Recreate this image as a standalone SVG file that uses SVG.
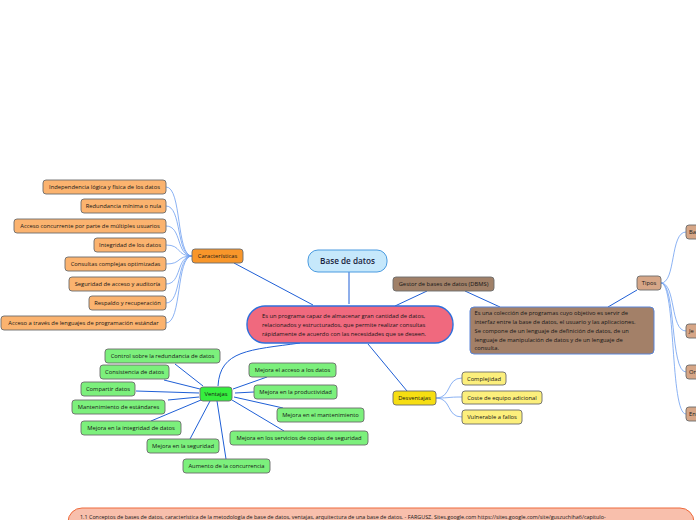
<svg xmlns="http://www.w3.org/2000/svg" width="696" height="520" viewBox="0 0 696 520">
<style>
text{font-family:"Open Sans","Noto Sans","Liberation Sans",sans-serif;font-size:5.8px;fill:#161616}
.c{text-anchor:middle}
.n{stroke:#6b6b6b;stroke-width:0.9}
.carC{fill:#fbb36f}
.venC{fill:#7cf07c}
.desC{fill:#fcef7c}
.tip{fill:#d6a687}
.soft{fill:none;stroke:#6d9ef0;stroke-width:0.8}
.hard{fill:none;stroke:#1f5fd6;stroke-width:1}
</style>
<rect width="696" height="520" fill="#ffffff"/>
<g id="connectors">
<line class="hard" x1="349" y1="272" x2="349" y2="304"/>
<line class="hard" x1="234" y1="263" x2="313" y2="305"/>
<line class="hard" x1="427" y1="291" x2="395" y2="306"/>
<line class="hard" x1="465" y1="291" x2="500" y2="307"/>
<line class="hard" x1="637" y1="290" x2="608" y2="307"/>
<line class="hard" x1="368" y1="344" x2="407" y2="391"/>
<path class="hard" d="M300,343 C250,350 220,350 218,386"/>
<path class="soft" d="M192,256 C176,256 182,187 166,187"/>
<path class="soft" d="M192,256 C176,256 182,206 166,206"/>
<path class="soft" d="M192,256 C176,256 182,226 166,226"/>
<path class="soft" d="M192,256 C176,256 182,245 166,245"/>
<path class="soft" d="M192,256 C176,256 182,264 166,264"/>
<path class="soft" d="M192,256 C176,256 182,284 166,284"/>
<path class="soft" d="M192,256 C176,256 182,303 166,303"/>
<path class="soft" d="M192,256 C176,256 182,323 166,323"/>
<line class="hard" x1="175" y1="364" x2="203" y2="386"/>
<line class="hard" x1="164" y1="380" x2="200" y2="389"/>
<line class="hard" x1="136" y1="391" x2="199" y2="393"/>
<line class="hard" x1="168" y1="400" x2="199" y2="397"/>
<line class="hard" x1="151" y1="421" x2="201" y2="400"/>
<line class="hard" x1="190" y1="439" x2="210" y2="401"/>
<line class="hard" x1="226" y1="459" x2="217" y2="401"/>
<line class="hard" x1="233" y1="389" x2="267" y2="377"/>
<line class="hard" x1="235" y1="393" x2="254" y2="392"/>
<line class="hard" x1="234" y1="397" x2="283" y2="408"/>
<line class="hard" x1="232" y1="400" x2="284" y2="431"/>
<path class="soft" d="M436,398 C452,398 446,378 462,378"/>
<path class="soft" d="M436,398 C452,398 446,397 462,397"/>
<path class="soft" d="M436,398 C452,398 446,417 462,417"/>
<path class="soft" d="M661,283 C676,283 670,232 686,232"/>
<path class="soft" d="M661,283 C676,283 670,331 686,331"/>
<path class="soft" d="M661,283 C676,283 670,372 686,372"/>
<path class="soft" d="M661,283 C676,283 670,414 686,414"/>
</g>
<g id="base">
<rect x="308" y="250" width="79" height="22" rx="10" fill="#c6e8fb" stroke="#4a9be0" stroke-width="1"/>
<text class="c" x="347.5" y="264" style="font-size:8.2px;font-weight:600;fill:#1a2340">Base de datos</text>
</g>
<g id="central">
<rect x="247" y="306" width="206" height="37" rx="18" fill="#f0697e" stroke="#2f6fdb" stroke-width="1.4"/>
<text x="262" y="318">Es un programa capaz de almacenar gran cantidad de datos,</text>
<text x="262" y="327">relacionados y estructurados, que permite realizar consultas</text>
<text x="262" y="335.5">rápidamente de acuerdo con las necesidades que se deseen.</text>
</g>
<g id="gestor">
<rect class="n" x="393" y="277" width="101" height="14" rx="3" fill="#a08068"/>
<text class="c" x="443.5" y="286">Gestor de bases de datos (DBMS)</text>
</g>
<g id="descripcion">
<rect x="470" y="307" width="184" height="47" rx="4" fill="#a38068" stroke="#5a85d8" stroke-width="1"/>
<text x="474.5" y="315">Es una colección de programas cuyo objetivo es servir de</text>
<text x="474.5" y="324">interfaz entre la base de datos, el usuario y las aplicaciones.</text>
<text x="474.5" y="332.5">Se compone de un lenguaje de definición de datos, de un</text>
<text x="474.5" y="341.5">lenguaje de manipulación de datos y de un lenguaje de</text>
<text x="474.5" y="350">consulta.</text>
</g>
<g id="tipos">
<rect class="n tip" x="637" y="276" width="24" height="14" rx="3"/>
<text class="c" x="649" y="285">Tipos</text>
</g>
<g id="tipo1"><rect class="n tip" x="686" y="225" width="40" height="14" rx="3"/><text x="689" y="234">Ba</text></g>
<g id="tipo2"><rect class="n tip" x="686" y="324" width="40" height="14" rx="3"/><text x="689" y="333">Je</text></g>
<g id="tipo3"><rect class="n tip" x="686" y="365" width="40" height="14" rx="3"/><text x="689" y="374">Or</text></g>
<g id="tipo4"><rect class="n tip" x="686" y="407" width="40" height="14" rx="3"/><text x="689" y="416">En</text></g>
<g id="caracteristicas">
<rect class="n" x="192" y="249" width="51" height="14" rx="3" fill="#f8962a"/>
<text class="c" x="217.5" y="258">Características</text>
</g>
<g id="car1"><rect class="n carC" x="43" y="180" width="123" height="14" rx="3"/><text class="c" x="104.5" y="189">Independencia lógica y física de los datos</text></g>
<g id="car2"><rect class="n carC" x="81" y="199" width="85" height="14" rx="3"/><text class="c" x="123.5" y="208">Redundancia mínima o nula</text></g>
<g id="car3"><rect class="n carC" x="14" y="219" width="152" height="14" rx="3"/><text class="c" x="90" y="228">Acceso concurrente por parte de múltiples usuarios</text></g>
<g id="car4"><rect class="n carC" x="94" y="238" width="72" height="14" rx="3"/><text class="c" x="130" y="247">Integridad de los datos</text></g>
<g id="car5"><rect class="n carC" x="65" y="257" width="101" height="14" rx="3"/><text class="c" x="115.5" y="266">Consultas complejas optimizadas</text></g>
<g id="car6"><rect class="n carC" x="69" y="277" width="97" height="14" rx="3"/><text class="c" x="117.5" y="286">Seguridad de acceso y auditoría</text></g>
<g id="car7"><rect class="n carC" x="89" y="296" width="77" height="14" rx="3"/><text class="c" x="127.5" y="305">Respaldo y recuperación</text></g>
<g id="car8"><rect class="n carC" x="1" y="316" width="165" height="14" rx="3"/><text class="c" x="83.5" y="325">Acceso a través de lenguajes de programación estándar</text></g>
<g id="ventajas">
<rect class="n" x="200" y="387" width="32" height="14" rx="3" fill="#36ee3e"/>
<text class="c" x="216" y="396">Ventajas</text>
</g>
<g id="ven1"><rect class="n venC" x="105" y="349" width="115" height="14" rx="3"/><text class="c" x="162.5" y="358">Control sobre la redundancia de datos</text></g>
<g id="ven2"><rect class="n venC" x="100" y="365" width="69" height="14" rx="3"/><text class="c" x="134.5" y="374">Consistencia de datos</text></g>
<g id="ven3"><rect class="n venC" x="81" y="382" width="54" height="14" rx="3"/><text class="c" x="108" y="391">Compartir datos</text></g>
<g id="ven4"><rect class="n venC" x="72" y="400" width="93" height="14" rx="3"/><text class="c" x="118.5" y="409">Mantenimiento de estándares</text></g>
<g id="ven5"><rect class="n venC" x="81" y="421" width="100" height="14" rx="3"/><text class="c" x="131" y="430">Mejora en la integridad de datos</text></g>
<g id="ven6"><rect class="n venC" x="147" y="439" width="72" height="14" rx="3"/><text class="c" x="183" y="448">Mejora en la seguridad</text></g>
<g id="ven7"><rect class="n venC" x="183" y="459" width="87" height="14" rx="3"/><text class="c" x="226.5" y="468">Aumento de la concurrencia</text></g>
<g id="ven8"><rect class="n venC" x="249" y="363" width="87" height="14" rx="3"/><text class="c" x="292.5" y="372">Mejora el acceso a los datos</text></g>
<g id="ven9"><rect class="n venC" x="254" y="385" width="83" height="14" rx="3"/><text class="c" x="295.5" y="394">Mejora en la productividad</text></g>
<g id="ven10"><rect class="n venC" x="277" y="408" width="87" height="14" rx="3"/><text class="c" x="320.5" y="417">Mejora en el mantenimiento</text></g>
<g id="ven11"><rect class="n venC" x="230" y="431" width="138" height="14" rx="3"/><text class="c" x="299" y="440">Mejora en los servicios de copias de seguridad</text></g>
<g id="desventajas">
<rect class="n" x="393" y="391" width="43" height="14" rx="3" fill="#f6de12"/>
<text class="c" x="414.5" y="400">Desventajas</text>
</g>
<g id="des1"><rect class="n desC" x="462" y="372" width="44" height="13" rx="3"/><text class="c" x="484" y="380.5">Complejidad</text></g>
<g id="des2"><rect class="n desC" x="462" y="391" width="80" height="13" rx="3"/><text class="c" x="502" y="399.5">Coste de equipo adicional</text></g>
<g id="des3"><rect class="n desC" x="462" y="410" width="60" height="14" rx="3"/><text class="c" x="492" y="419">Vulnerable a fallos</text></g>
<g id="referencia">
<rect x="68" y="508" width="626" height="40" rx="14" fill="#f8bfac" stroke="#ee6a3c" stroke-width="1"/>
<text x="80" y="519" style="font-size:5.4px">1.1 Conceptos de bases de datos, característica de la metodología de base de datos, ventajas, arquitectura de una base de datos. - FARGUSZ. Sites.google.com https://sites.google.com/site/guszuchiha6/capitulo-</text>
</g>
</svg>
